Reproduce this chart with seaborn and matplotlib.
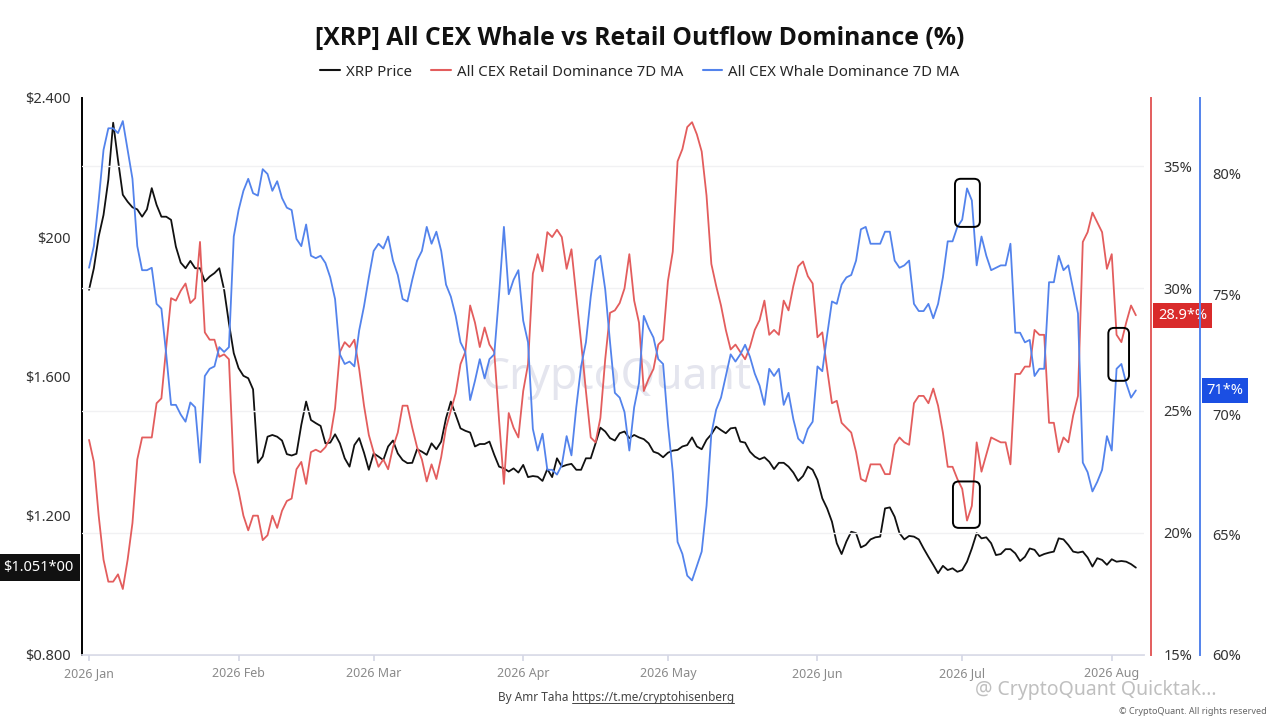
import pandas as pd
import matplotlib
matplotlib.use("Agg")
import matplotlib.pyplot as plt
import matplotlib.dates as mdates
import matplotlib.transforms as mtransforms
from matplotlib.patches import FancyBboxPatch
from matplotlib.lines import Line2D
import seaborn as sns

# --- data (daily, from 2026-01-01) ---
start_date = "2026-01-01"

xrp_price = [
    1.849, 1.911, 2.002, 2.064, 2.165, 2.329, 2.222, 2.122, 2.102, 2.086,
    2.080, 2.059, 2.080, 2.141, 2.093, 2.059, 2.059, 2.050, 1.973, 1.927,
    1.911, 1.932, 1.911, 1.911, 1.873, 1.887, 1.897, 1.911, 1.849, 1.753,
    1.667, 1.624, 1.602, 1.595, 1.563, 1.352, 1.370, 1.427, 1.432, 1.427,
    1.416, 1.377, 1.373, 1.378, 1.461, 1.528, 1.475, 1.466, 1.458, 1.408,
    1.410, 1.434, 1.408, 1.365, 1.341, 1.403, 1.423, 1.381, 1.332, 1.379,
    1.370, 1.360, 1.399, 1.416, 1.379, 1.360, 1.351, 1.352, 1.391, 1.384,
    1.375, 1.408, 1.391, 1.413, 1.480, 1.528, 1.490, 1.451, 1.444, 1.439,
    1.399, 1.406, 1.406, 1.413, 1.375, 1.341, 1.336, 1.327, 1.336, 1.324,
    1.346, 1.311, 1.314, 1.312, 1.300, 1.334, 1.311, 1.365, 1.341, 1.346,
    1.349, 1.332, 1.332, 1.365, 1.365, 1.408, 1.453, 1.442, 1.423, 1.416,
    1.437, 1.442, 1.423, 1.432, 1.425, 1.420, 1.408, 1.384, 1.379, 1.368,
    1.381, 1.387, 1.389, 1.399, 1.403, 1.425, 1.399, 1.391, 1.418, 1.434,
    1.456, 1.446, 1.437, 1.451, 1.453, 1.413, 1.410, 1.384, 1.370, 1.362,
    1.368, 1.355, 1.334, 1.352, 1.352, 1.341, 1.324, 1.300, 1.314, 1.341,
    1.332, 1.303, 1.250, 1.221, 1.183, 1.121, 1.090, 1.126, 1.154, 1.150,
    1.109, 1.116, 1.132, 1.138, 1.140, 1.221, 1.224, 1.197, 1.150, 1.132,
    1.142, 1.140, 1.132, 1.106, 1.082, 1.059, 1.035, 1.056, 1.044, 1.049,
    1.039, 1.044, 1.068, 1.106, 1.150, 1.135, 1.138, 1.121, 1.087, 1.090,
    1.104, 1.104, 1.092, 1.070, 1.082, 1.106, 1.102, 1.084, 1.090, 1.094,
    1.097, 1.135, 1.132, 1.116, 1.097, 1.094, 1.097, 1.080, 1.054, 1.078,
    1.073, 1.059, 1.075, 1.068, 1.070, 1.068, 1.061, 1.051,
]

retail_dom = [
    23.8, 22.9, 20.7, 18.9, 18.0, 18.0, 18.3, 17.7, 18.9, 20.4,
    23.0, 23.9, 23.9, 23.9, 25.3, 25.5, 27.6, 29.6, 29.5, 29.9,
    30.2, 29.4, 29.6, 31.9, 28.2, 27.9, 27.9, 27.2, 27.3, 27.1,
    22.5, 21.7, 20.7, 20.1, 20.7, 20.7, 19.7, 19.9, 20.7, 20.2,
    20.9, 21.3, 21.4, 22.6, 22.9, 22.0, 23.3, 23.4, 23.3, 23.5,
    23.9, 25.1, 27.4, 27.8, 27.6, 27.9, 26.7, 25.2, 24.0, 23.3,
    22.7, 23.0, 22.6, 23.5, 24.1, 25.2, 25.2, 24.3, 23.5, 23.0,
    22.1, 22.8, 22.2, 23.1, 24.3, 25.0, 25.7, 26.9, 27.4, 29.3,
    28.6, 27.6, 28.4, 27.7, 27.4, 24.6, 22.0, 24.9, 24.3, 23.9,
    25.8, 26.9, 30.6, 31.4, 30.7, 32.3, 32.1, 32.4, 32.1, 30.8,
    31.6, 29.7, 27.8, 25.8, 23.9, 23.7, 24.7, 27.1, 29.0, 29.1,
    29.4, 30.0, 31.4, 29.5, 28.6, 25.8, 26.3, 26.7, 27.7, 27.9,
    30.3, 31.5, 35.2, 35.7, 36.6, 36.8, 36.3, 35.6, 33.8, 31.0,
    30.1, 29.3, 28.3, 27.5, 27.7, 27.4, 27.1, 27.6, 28.3, 28.7,
    29.5, 28.1, 28.3, 28.1, 29.5, 29.1, 30.1, 30.9, 31.1, 30.5,
    30.2, 28.0, 28.2, 26.7, 25.3, 25.4, 24.5, 24.3, 24.1, 23.3,
    22.2, 22.1, 22.8, 22.8, 22.8, 22.4, 22.4, 23.6, 23.9, 23.7,
    23.6, 25.3, 25.6, 25.6, 25.3, 25.9, 25.2, 24.1, 22.7, 22.7,
    22.2, 21.8, 20.5, 21.1, 23.7, 22.5, 23.2, 23.9, 23.8, 23.7,
    23.7, 22.8, 26.5, 26.5, 26.8, 26.8, 28.3, 28.1, 28.1, 24.5,
    24.5, 23.3, 23.9, 23.7, 24.8, 25.6, 31.9, 32.3, 33.1, 32.7,
    32.3, 30.8, 31.4, 28.1, 27.8, 28.6, 29.3, 28.9,
]

whale_dom = [
    76.1, 77.0, 78.9, 81.0, 81.9, 81.9, 81.7, 82.2, 81.0, 79.8,
    77.0, 76.0, 76.0, 76.1, 74.6, 74.4, 72.5, 70.4, 70.4, 70.0,
    69.7, 70.5, 70.3, 68.0, 71.6, 71.9, 72.0, 72.8, 72.6, 72.8,
    77.4, 78.5, 79.3, 79.8, 79.2, 79.1, 80.2, 80.0, 79.3, 79.7,
    79.0, 78.6, 78.5, 77.3, 77.0, 77.9, 76.6, 76.5, 76.6, 76.3,
    75.7, 74.8, 72.5, 72.1, 72.2, 72.0, 73.5, 74.5, 75.7, 76.8,
    77.1, 76.9, 77.4, 76.4, 75.8, 74.8, 74.7, 75.6, 76.4, 76.8,
    77.8, 77.1, 77.6, 76.8, 75.4, 74.9, 74.1, 73.0, 72.6, 70.6,
    71.4, 72.3, 71.5, 72.3, 72.5, 75.0, 77.8, 75.0, 75.6, 76.0,
    73.9, 73.0, 69.4, 68.5, 69.2, 67.7, 67.7, 67.5, 67.9, 69.1,
    68.3, 70.3, 72.0, 73.0, 74.9, 76.4, 76.6, 75.2, 73.0, 70.9,
    70.7, 70.1, 68.5, 70.3, 71.3, 74.1, 73.6, 73.2, 72.3, 72.1,
    69.6, 67.6, 64.7, 64.2, 63.3, 63.1, 63.7, 64.3, 66.2, 69.2,
    70.2, 70.7, 71.6, 72.5, 72.2, 72.5, 72.9, 72.4, 71.7, 71.2,
    70.4, 71.9, 71.6, 71.9, 70.4, 70.9, 69.8, 69.0, 68.8, 69.4,
    69.7, 72.0, 71.8, 73.3, 74.7, 74.6, 75.4, 75.7, 75.8, 76.4,
    77.7, 77.8, 77.1, 77.1, 77.1, 77.6, 77.6, 76.4, 76.1, 76.2,
    76.4, 74.6, 74.3, 74.3, 74.6, 74.0, 74.6, 75.7, 77.2, 77.2,
    77.8, 78.1, 79.4, 78.9, 76.2, 77.4, 76.6, 76.0, 76.1, 76.2,
    76.2, 77.1, 73.4, 73.4, 73.0, 73.1, 71.6, 71.9, 71.9, 75.5,
    75.5, 76.6, 76.0, 76.2, 75.2, 74.2, 68.0, 67.6, 66.8, 67.2,
    67.7, 69.1, 68.5, 71.9, 72.1, 71.3, 70.7, 71.0,
]

price_ticks = [0.8, 1.2, 1.6, 2.0, 2.4]
price_labels = ["$0.800", "$1.200", "$1.600", "$200", "$2.400"]
retail_ticks = [15, 20, 25, 30, 35]
whale_ticks = [60, 65, 70, 75, 80]

price_tag = "$1.051*00"
retail_tag = "28.9*%"
whale_tag = "71*%"

# highlighted spots: (from, to, low, high)
whale_boxes = [("2026-06-29 12:00", "2026-07-04 16:00", 77.8, 79.8),
               ("2026-07-31 07:00", "2026-08-04 14:00", 71.4, 73.6)]
retail_boxes = [("2026-06-29 02:00", "2026-07-04 16:00", 20.2, 22.1)]

BLACK = "#111111"
RED = "#e35d5d"
BLUE = "#5383ec"

df = pd.DataFrame({
    "date": pd.date_range(start_date, periods=len(xrp_price), freq="D"),
    "price": xrp_price,
    "retail": retail_dom,
    "whale": whale_dom,
})

sns.set_theme(style="white")
plt.rcParams["font.family"] = ["Noto Sans", "DejaVu Sans"]

fig = plt.figure(figsize=(12.8, 7.2), dpi=100)
ax = fig.add_axes([0.0641, 0.0903, 0.8297, 0.7736])
ax_r = ax.twinx()
ax_w = ax.twinx()

# watermark behind lines
ax.text(0.503, 0.497, "CryptoQuant", transform=ax.transAxes, ha="center", va="center",
        fontsize=32, color="#e4e5ee", zorder=0)

sns.lineplot(data=df, x="date", y="price", ax=ax, color=BLACK, linewidth=1.3)
sns.lineplot(data=df, x="date", y="retail", ax=ax_r, color=RED, linewidth=1.3)
sns.lineplot(data=df, x="date", y="whale", ax=ax_w, color=BLUE, linewidth=1.3)

t0 = pd.Timestamp(start_date)
ax.set_xlim(t0 - pd.Timedelta(days=1.45), t0 + pd.Timedelta(days=218.7))
ax.set_ylim(0.8, 2.4)
ax_r.set_ylim(15, 37.79)
ax_w.set_ylim(60, 83.16)

for a in (ax, ax_r, ax_w):
    a.set_xlabel("")
    a.set_ylabel("")
    a.spines["top"].set_visible(False)

# left axis
ax.set_yticks(price_ticks)
ax.set_yticklabels(price_labels)
ax.tick_params(axis="y", length=0, pad=8, labelsize=10.5, labelcolor="#333333")
ax.spines["left"].set_color("black")
ax.spines["left"].set_linewidth(1.4)
ax.spines["right"].set_visible(False)
ax.spines["bottom"].set_color("#d6d8e6")
ax.xaxis.set_major_locator(mdates.MonthLocator())
ax.xaxis.set_major_formatter(mdates.DateFormatter("%Y %b"))
ax.tick_params(axis="x", length=4, color="#d6d8e6", pad=5, labelsize=9, labelcolor="#8a8a8a",
               bottom=True)

# retail axis (grid comes from here)
ax_r.set_yticks(retail_ticks)
ax_r.set_yticklabels([f"{v}%" for v in retail_ticks])
ax_r.grid(axis="y", color="#f1f1f3", linewidth=1)
ax_r.tick_params(axis="y", length=0, pad=9, labelsize=10.5, labelcolor="#333333")
ax_r.spines["right"].set_position(("outward", 5))
ax_r.spines["right"].set_color(RED)
ax_r.spines["right"].set_linewidth(1.4)
for s in ("left", "bottom"):
    ax_r.spines[s].set_visible(False)

# whale axis
ax_w.set_yticks(whale_ticks)
ax_w.set_yticklabels([f"{v}%" for v in whale_ticks])
ax_w.tick_params(axis="y", length=0, pad=9, labelsize=10.5, labelcolor="#333333")
ax_w.spines["right"].set_position(("outward", 40))
ax_w.spines["right"].set_color(BLUE)
ax_w.spines["right"].set_linewidth(1.4)
for s in ("left", "bottom"):
    ax_w.spines[s].set_visible(False)
ax_w.grid(False)
ax.grid(False)

# highlight boxes
def draw_boxes(a, boxes):
    for x0, x1, lo, hi in boxes:
        d0 = mdates.date2num(pd.Timestamp(x0))
        d1 = mdates.date2num(pd.Timestamp(x1))
        a.add_patch(FancyBboxPatch((d0, lo), d1 - d0, hi - lo,
                                   boxstyle="round,pad=0,rounding_size=1.2",
                                   mutation_aspect=0.2, fill=False,
                                   edgecolor="black", linewidth=1.4, zorder=5))

draw_boxes(ax_w, whale_boxes)
draw_boxes(ax_r, retail_boxes)

# last-value tags
tr = mtransforms.blended_transform_factory(ax.transAxes, ax.transData)
ax.text(-0.008, xrp_price[-1], price_tag, transform=tr, ha="right", va="center",
        fontsize=10.5, color="white", clip_on=False,
        bbox=dict(boxstyle="square,pad=0.42", fc="#111111", ec="none"))
tr_r = mtransforms.blended_transform_factory(ax_r.transAxes, ax_r.transData)
ax_r.text(1.013, retail_dom[-1], retail_tag, transform=tr_r, ha="left", va="center",
          fontsize=10.5, color="white", clip_on=False,
          bbox=dict(boxstyle="square,pad=0.36", fc="#d92b2b", ec="none"))
tr_w = mtransforms.blended_transform_factory(ax_w.transAxes, ax_w.transData)
ax_w.text(1.059, whale_dom[-1], whale_tag, transform=tr_w, ha="left", va="center",
          fontsize=10.5, color="white", clip_on=False,
          bbox=dict(boxstyle="square,pad=0.32", fc="#1b4fe3", ec="none"))

# title + legend
fig.text(0.5, 1 - 38 / 720, "[XRP] All CEX Whale vs Retail Outflow Dominance (%)",
         ha="center", va="center", fontsize=17.8, fontweight="bold", color="#111111",
         family=["Open Sans", "DejaVu Sans"])
handles = [Line2D([], [], color=BLACK, lw=1.5),
           Line2D([], [], color=RED, lw=1.5),
           Line2D([], [], color=BLUE, lw=1.5)]
fig.legend(handles, ["XRP Price", "All CEX Retail Dominance 7D MA", "All CEX Whale Dominance 7D MA"],
           loc="center", bbox_to_anchor=(0.5, 1 - 72 / 720), ncol=3, frameon=False,
           fontsize=10.8, handlelength=1.3, handletextpad=0.4, columnspacing=1.3)

# footer
by_txt = fig.text(498 / 1280, 1 - 697 / 720, "By Amr Taha ", ha="left", va="center",
                  fontsize=8.5, color="#444444")
fig.canvas.draw()
bb = by_txt.get_window_extent()
url_txt = fig.text(bb.x1 / 1280, 1 - 697 / 720, "https://t.me/cryptohisenberg", ha="left",
                   va="center", fontsize=8.5, color="#444444")
fig.canvas.draw()
ub = url_txt.get_window_extent()
fig.add_artist(Line2D([ub.x0 / 1280, ub.x1 / 1280], [(ub.y0 + 1) / 720] * 2,
                      color="#444444", lw=0.7))

fig.text(0.762, 1 - 690 / 720, "@ CryptoQuant Quicktak…", ha="left", va="center",
         fontsize=14, color="#b0b0b0", alpha=0.8)
fig.text(0.99, 1 - 712 / 720, "© CryptoQuant. All rights reserved", ha="right", va="center",
         fontsize=6.5, color="#666666")

fig.savefig("out.png", dpi=100)
